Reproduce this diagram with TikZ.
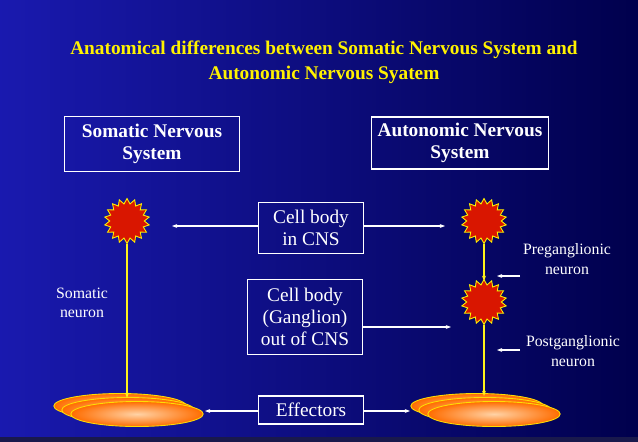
\documentclass[tikz,border=0pt]{standalone}
\usepackage{fontspec}
\setmainfont{Liberation Serif}
\usetikzlibrary{shapes.geometric,arrows.meta}
\begin{document}
\begin{tikzpicture}[x=0.02cm,y=-0.02cm,
  box/.style={draw=white,line width=0.7pt,text=white,align=center,font=\fontsize{11}{12.5}\selectfont,inner sep=2pt},
  hbox/.style={draw=white,line width=0.7pt,text=white,align=center,font=\bfseries\fontsize{11}{12.5}\selectfont},
  lbl/.style={text=white,align=center,font=\fontsize{9}{11}\selectfont},
  neuron/.style={star,star points=18,star point ratio=1.3,minimum size=0.9cm,fill=red!80!orange!85!black,draw=yellow,line width=0.5pt,inner sep=0pt},
  warr/.style={white,line width=0.6pt,-{Stealth[length=3pt]}},
  yarr/.style={yellow!90!white,line width=0.6pt,-{Stealth[length=3pt]}},
  eff/.style={ellipse,minimum width=2.65cm,minimum height=0.5cm,draw=yellow!80!orange,line width=0.5pt,inner color=orange!35!white,outer color=orange!85!red}]
\shade[left color=blue!65!black!90, right color=blue!40!black!75!black] (0,0) rectangle (638,442);
\fill[gray!50!blue!40!black] (0,437) rectangle (638,442);
\useasboundingbox (0,0) rectangle (638,442);
\node[text=yellow,align=center,font=\bfseries\fontsize{11}{14}\selectfont] (title) at (324,62) {Anatomical differences between Somatic Nervous System and\\Autonomic Nervous Syatem};
\node[hbox,minimum width=3.5cm,minimum height=1.1cm] (sns) at (152,144) {Somatic Nervous\\System};
\node[hbox,minimum width=3.55cm,minimum height=1.04cm] (ans) at (460,143) {Autonomic Nervous\\System};
\node[box,minimum width=2.1cm,minimum height=1.02cm] (cb1) at (311,228) {Cell body\\in CNS};
\node[box,minimum width=2.3cm,minimum height=1.5cm] (cb2) at (305,317) {Cell body\\(Ganglion)\\out of CNS};
\node[box,minimum width=2.1cm,minimum height=0.56cm] (ef) at (311,410) {Effectors};
\node[neuron] (n1) at (127,221) {};
\node[neuron] (n2) at (484,221) {};
\node[neuron] (n3) at (484,302) {};
\foreach \n/\x in {l/134,r/491}{
  \node[eff] (\n a) at (\x-14,406) {};
  \node[eff] (\n b) at (\x-6,410) {};
  \node[eff] (\n c) at (\x+3,414) {};
}
\coordinate (t1) at (172,226);
\coordinate (t2) at (445,226);
\coordinate (t3) at (451,327);
\coordinate (t4) at (205,411);
\coordinate (t5) at (410,411);
\draw[warr] (cb1.west|-t1) -- (t1);
\draw[warr] (cb1.east|-t2) -- (t2);
\draw[warr] (cb2.east|-t3) -- (t3);
\draw[warr] (ef.west|-t4) -- (t4);
\draw[warr] (ef.east|-t5) -- (t5);
\coordinate (e1) at (127,398);
\coordinate (e2) at (484,281);
\coordinate (e3) at (484,396);
\draw[yarr] (n1.south) -- (e1);
\draw[yarr] (n2.south) -- (e2);
\draw[yarr] (n3.south) -- (e3);
\node[lbl] (sn) at (82,303) {Somatic\\neuron};
\node[lbl] (pre) at (567,259) {Preganglionic\\neuron};
\node[lbl] (post) at (573,351) {Postganglionic\\neuron};
\coordinate (p1s) at (520,276); \coordinate (p1e) at (497,276);
\coordinate (p2s) at (520,350); \coordinate (p2e) at (497,350);
\draw[warr] (p1s) -- (p1e);
\draw[warr] (p2s) -- (p2e);
\end{tikzpicture}
\end{document}
